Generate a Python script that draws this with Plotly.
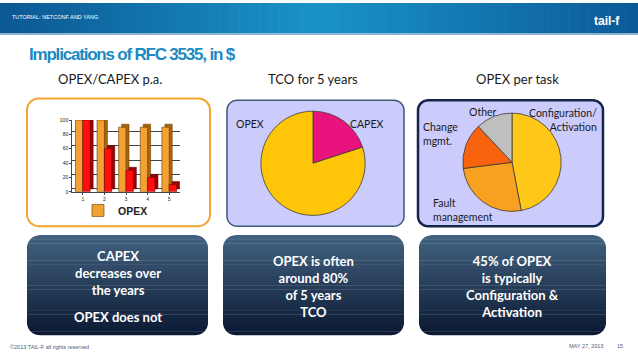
import math
import plotly.graph_objects as go

W, H = 638, 359

# ---------------- data ----------------
years = [1, 2, 3, 4, 5]
opex_pa = [100, 100, 90, 90, 90]
capex_pa = [100, 60, 30, 20, 10]
y_ticks = [0, 20, 40, 60, 80, 100]

tco_labels = ["CAPEX", "OPEX"]
tco_values = [20, 80]

task_labels = ["Configuration/Activation", "Fault management", "Change mgmt.", "Other"]
task_values = [47, 26, 15, 12]

title = "Implications of RFC 3535, in $"
subtitles = ["OPEX/CAPEX p.a.", "TCO for 5 years", "OPEX per task"]
box_texts = [
    ["CAPEX<br>decreases over<br>the years", "OPEX does not"],
    ["OPEX is often<br>around 80%<br>of 5 years<br>TCO"],
    ["45% of OPEX<br>is typically<br>Configuration &<br>Activation"],
]


def px(x):
    return x / W


def py(y):
    return 1 - y / H


def hexmix(c1, c2, t):
    a = [int(c1[i:i + 2], 16) for i in (1, 3, 5)]
    b = [int(c2[i:i + 2], 16) for i in (1, 3, 5)]
    return "#%02x%02x%02x" % tuple(round(a[k] + (b[k] - a[k]) * t) for k in range(3))


def xleft(x0, y0, y1, r, y):
    d = min(y - y0, y1 - y)
    if d >= r:
        return x0
    return x0 + r - math.sqrt(max(r * r - (r - d) ** 2, 0))


def rrect_poly(x0, y0, x1, y1, r, ya, yb, n=8):
    ys = [ya + (yb - ya) * i / n for i in range(n + 1)]
    left = [(xleft(x0, y0, y1, r, y), y) for y in ys]
    right = [(x1 - (xleft(x0, y0, y1, r, y) - x0), y) for y in reversed(ys)]
    pts = left + right
    return "M " + " L ".join("%.5f,%.5f" % (px(a), py(b)) for a, b in pts) + " Z"


def rrect_path(x0, y0, x1, y1, r):
    pts = []
    steps = 10
    corners = [(x1 - r, y0 + r, -90, 0), (x1 - r, y1 - r, 0, 90),
               (x0 + r, y1 - r, 90, 180), (x0 + r, y0 + r, 180, 270)]
    for cx, cy, a0, a1 in corners:
        for i in range(steps + 1):
            a = math.radians(a0 + (a1 - a0) * i / steps)
            pts.append((cx + r * math.cos(a), cy + r * math.sin(a)))
    return "M " + " L ".join("%.5f,%.5f" % (px(a), py(b)) for a, b in pts) + " Z"


shapes = []
# header gradient
nstrip = 64
for i in range(nstrip):
    t = i / (nstrip - 1)
    if t < 0.5:
        c = hexmix("#0c5893", "#1a93ca", t / 0.5)
    else:
        c = hexmix("#1a93ca", "#0b5a98", (t - 0.5) / 0.5)
    shapes.append(dict(type="rect", xref="paper", yref="paper",
                       x0=px(W * i / nstrip), x1=px(W * (i + 1) / nstrip + 0.6),
                       y0=py(31), y1=py(0), fillcolor=c, line_width=0, layer="below"))
shapes.append(dict(type="rect", xref="paper", yref="paper", x0=0, x1=1,
                   y0=py(32.5), y1=py(31), fillcolor="#8fb3cf", line_width=0, layer="below"))

# panels
shapes.append(dict(type="path", xref="paper", yref="paper",
                   path=rrect_path(27, 97, 210, 227, 12),
                   fillcolor="white", line=dict(color="#f2a531", width=2), layer="below"))
shapes.append(dict(type="path", xref="paper", yref="paper",
                   path=rrect_path(227, 99, 404, 227, 10),
                   fillcolor="#ccccfc", line=dict(color="#3d5878", width=1.5), layer="below"))
shapes.append(dict(type="path", xref="paper", yref="paper",
                   path=rrect_path(418, 99, 603, 227, 10),
                   fillcolor="#ccccfc", line=dict(color="#14244a", width=2.5), layer="below"))

# bottom boxes with vertical gradient
boxes = [(27, 236, 208, 338), (223, 236, 404, 338), (419, 236, 606, 338)]
nb = 24
for (x0, y0, x1, y1) in boxes:
    for i in range(nb):
        ya = y0 + (y1 - y0) * i / nb
        yb = min(y0 + (y1 - y0) * (i + 1) / nb + 0.4, y1)
        c = hexmix("#41617f", "#0c1a34", i / (nb - 1))
        shapes.append(dict(type="path", xref="paper", yref="paper",
                           path=rrect_poly(x0, y0, x1, y1, 13, ya, yb),
                           fillcolor=c, line_width=0, layer="below"))

fig = go.Figure()

# bar chart: 3D-ish depth layer on base axes (shifted), front bars on overlay axes
dx_cat = 0.14
dy_val = 4.2
fig.add_trace(go.Bar(x=years, y=opex_pa, name="OPEX", marker=dict(color="#a8660c", line=dict(color="#5a3000", width=0.5)),
                     xaxis="x", yaxis="y", showlegend=False, hoverinfo="skip", offsetgroup="a"))
fig.add_trace(go.Bar(x=years, y=capex_pa, name="CAPEX", marker=dict(color="#a00000", line=dict(color="#500000", width=0.5)),
                     xaxis="x", yaxis="y", showlegend=False, hoverinfo="skip", offsetgroup="b"))
fig.add_trace(go.Bar(x=years, y=opex_pa, name="OPEX", marker=dict(color="#f2a232", line=dict(color="#6a3a00", width=0.6)),
                     xaxis="x2", yaxis="y2", showlegend=True, offsetgroup="a"))
fig.add_trace(go.Bar(x=years, y=capex_pa, name="CAPEX", marker=dict(color="#ff1010", line=dict(color="#700000", width=0.6)),
                     xaxis="x2", yaxis="y2", showlegend=False, offsetgroup="b"))

# pies
fig.add_trace(go.Pie(labels=tco_labels, values=tco_values, sort=False, direction="clockwise",
                     rotation=0, textinfo="none", showlegend=False,
                     marker=dict(colors=["#e8137c", "#ffc508"], line=dict(color="#3a3a3a", width=0.8)),
                     domain=dict(x=[px(260), px(366)], y=[py(216), py(110)])))
fig.add_trace(go.Pie(labels=task_labels, values=task_values, sort=False, direction="clockwise",
                     rotation=0, textinfo="none", showlegend=False,
                     marker=dict(colors=["#ffc718", "#f8a020", "#f8640e", "#bfbfbf"],
                                 line=dict(color="#3a3a3a", width=0.8)),
                     domain=dict(x=[px(462), px(562)], y=[py(212), py(112)])))

xd = [px(72), px(180)]
yd = [py(192), py(119)]
tickfont = dict(family="Liberation Sans", size=5, color="#222")
fig.update_layout(
    width=W, height=H, margin=dict(l=0, r=0, t=0, b=0),
    paper_bgcolor="white", plot_bgcolor="#c3c3c3",
    barmode="group", bargap=0.32, bargroupgap=0.0,
    xaxis=dict(domain=xd, range=[0.5 - dx_cat, 5.5 - dx_cat], showticklabels=False,
               showgrid=False, zeroline=False, fixedrange=True),
    yaxis=dict(domain=yd, range=[-dy_val, 100 - dy_val], tickvals=y_ticks, showticklabels=False,
               showgrid=True, gridcolor="#444", gridwidth=0.6, zeroline=False, fixedrange=True),
    xaxis2=dict(domain=xd, range=[0.5, 5.5], overlaying="x", anchor="y2", tickvals=years,
                tickfont=tickfont, showgrid=False, zeroline=False, ticks="outside",
                ticklen=2, tickcolor="#444", showline=True, linecolor="#444", linewidth=0.6),
    yaxis2=dict(domain=yd, range=[0, 100], overlaying="y", anchor="x2", tickvals=y_ticks,
                tickfont=tickfont, showgrid=False, zeroline=False, ticks="outside",
                ticklen=2, tickcolor="#444", showline=True, linecolor="#444", linewidth=0.6),
    legend=dict(x=px(78), y=py(211), xanchor="left", yanchor="middle", orientation="h",
                font=dict(family="Liberation Sans", size=10.5, color="#222", weight="bold"),
                bgcolor="rgba(0,0,0,0)", itemwidth=30),
    shapes=shapes,
)

ann = []
ann.append(dict(text="TUTORIAL: NETCONF AND YANG", x=px(10), y=py(14), xanchor="left", yanchor="middle",
                font=dict(family="Liberation Sans", size=5.5, color="white")))
ann.append(dict(text="<b>tail-f</b>", x=px(622), y=py(18), xanchor="right", yanchor="middle",
                font=dict(family="Liberation Sans", size=12, color="white")))
ann.append(dict(text="<b><span style='letter-spacing:-1.2px'>" + title + "</span></b>", x=px(27), y=py(52),
                xanchor="left", yanchor="middle",
                font=dict(family="Liberation Sans", size=17, color="#1b8ac3")))
for txt, cx in zip(subtitles, [110, 313, 517]):
    ann.append(dict(text=txt, x=px(cx), y=py(77), xanchor="center", yanchor="middle",
                    font=dict(family="Lato", size=13, color="#1a1a1a")))
lab = dict(family="Lato", size=10.5, color="#1a1a1a")
ann.append(dict(text="OPEX", x=px(250), y=py(123), xanchor="center", yanchor="middle", font=lab))
ann.append(dict(text="CAPEX", x=px(367), y=py(123), xanchor="center", yanchor="middle", font=lab))
ann.append(dict(text="Other", x=px(483), y=py(111), xanchor="center", yanchor="middle", font=lab))
ann.append(dict(text="Configuration/<br>Activation", x=px(599), y=py(119), xanchor="right", yanchor="middle",
                align="right", font=lab))
ann.append(dict(text="Change<br>mgmt.", x=px(421), y=py(133), xanchor="left", yanchor="middle",
                align="left", font=lab))
ann.append(dict(text="Fault<br>management", x=px(431), y=py(211), xanchor="left", yanchor="middle",
                align="left", font=lab))
box_text_y = [[275, 319], [288], [288]]
for parts, ys, (x0, y0, x1, y1) in zip(box_texts, box_text_y, boxes):
    for txt, ty in zip(parts, ys):
        ann.append(dict(text="<b>" + txt + "</b>", x=px((x0 + x1) / 2), y=py(ty), xanchor="center",
                        yanchor="middle", align="center",
                        font=dict(family="Lato", size=13, color="white")))
ann.append(dict(text="©2013 TAIL-F all rights reserved", x=px(8), y=py(350), xanchor="left", yanchor="middle",
                font=dict(family="Liberation Sans", size=5.5, color="#4a5a7a")))
ann.append(dict(text="MAY 27, 2013", x=px(605), y=py(349), xanchor="right", yanchor="middle",
                font=dict(family="Liberation Sans", size=5.5, color="#4a5a7a")))
ann.append(dict(text="15", x=px(620), y=py(349), xanchor="center", yanchor="middle",
                font=dict(family="Liberation Sans", size=5.5, color="#4a5a7a")))
for a in ann:
    a.update(xref="paper", yref="paper", showarrow=False)
fig.update_layout(annotations=ann)

fig.write_html("out.html", config={"displayModeBar": False},
               post_script="document.body.style.margin='0px';document.body.style.overflow='hidden';")
